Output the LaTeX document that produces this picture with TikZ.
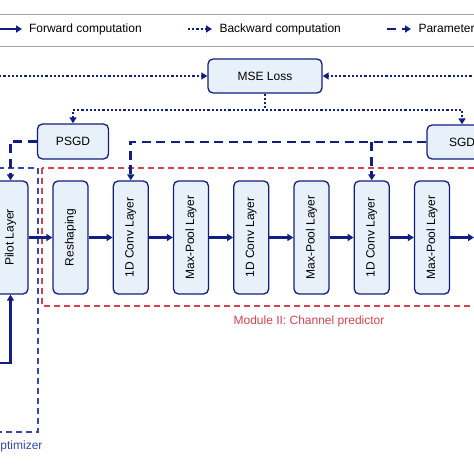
\documentclass[tikz,border=0pt]{standalone}
\usepackage{fontspec}
\setmainfont{Liberation Sans}
\usetikzlibrary{arrows.meta}
\definecolor{navy}{RGB}{18,30,130}
\definecolor{boxfill}{RGB}{232,240,249}
\definecolor{modred}{RGB}{214,66,78}
\definecolor{modblue}{RGB}{52,72,176}

\begin{document}
\begin{tikzpicture}[x=1pt, y=-1pt,
    font=\fontsize{12}{14}\selectfont,
    box/.style={draw=navy, fill=boxfill, line width=1.3pt, rounded corners=5pt, inner sep=0pt},
    layer/.style={box, minimum width=35pt, minimum height=113pt},
    fwd/.style={navy, line width=2.4pt, -{Triangle[length=6pt,width=7pt]}},
    back/.style={navy, line width=2.2pt, dash pattern=on 2.2pt off 2pt, -{Triangle[length=6pt,width=7pt]}},
    param/.style={navy, line width=2.6pt, dash pattern=on 9pt off 5.5pt, -{Triangle[length=6pt,width=7pt]}},
    module/.style={line width=1.2pt, dash pattern=on 6pt off 4pt}]
    \useasboundingbox (0,0) rectangle (474,474);

    % legend
    \draw[gray!70, line width=0.8pt] (-5,14) rectangle (480,46);
    \node[anchor=west] (tf) at (25.5,29) {Forward computation};
    \node[anchor=west] (tb) at (216,29) {Backward computation};
    \node[anchor=west] (tp) at (415,29) {Parameter update};
    \coordinate (lf) at (0,29);
    \coordinate (lb) at (188,29);
    \coordinate (lp) at (387,29);
    \draw[fwd, shorten >=3.5pt] (lf) -- (tf.west);
    \draw[back, shorten >=4pt] (lb) -- (tb.west);
    \draw[param, shorten >=4pt] (lp) -- (tp.west);

    % modules
    \draw[module, modred] (42,168) rectangle (490,306);
    \node[modred, anchor=north] (m2) at (309,312) {Module II: Channel predictor};
    \draw[module, modblue] (-10,168) rectangle (38,432);
    \node[modblue, anchor=east] (m1) at (46,446) {Module I: Pilot optimizer};

    % loss and optimizers
    \node[box, minimum width=114pt, minimum height=34pt] (mse) at (265,76) {MSE Loss};
    \node[box, minimum width=71pt, minimum height=35pt] (psgd) at (73,141.5) {PSGD};
    \node[box, minimum width=70pt, minimum height=34pt] (sgd) at (462,142) {SGD};

    % layers
    \node[layer] (pilot) at (10.5,237.5) {\rotatebox{90}{Pilot Layer}};
    \foreach \i/\t in {1/Reshaping,2/1D Conv Layer,3/Max-Pool Layer,4/1D Conv Layer,5/Max-Pool Layer,6/1D Conv Layer,7/Max-Pool Layer}
        \node[layer] (l\i) at ({70.5+60.25*(\i-1)},237.5) {\rotatebox{90}{\t}};

    % forward
    \coordinate (inp) at (-5,363);
    \coordinate (out) at (474,237.5);
    \draw[fwd] (inp) -| (pilot);
    \draw[fwd] (pilot) -- (l1);
    \foreach \i [count=\j from 2] in {1,...,6}
        \draw[fwd] (l\i) -- (l\j);
    \draw[fwd] (l7) -- (out);

    % backward
    \coordinate (lossl) at (-5,76);
    \coordinate (lossr) at (480,76);
    \draw[back] (lossl) -- (mse);
    \draw[back] (lossr) -- (mse);
    \draw[back] (mse.south) -- ++(0,16) -| (psgd);
    \draw[back] (mse.south) -- ++(0,16) -| (sgd);

    % parameter update
    \draw[param] (psgd) -| (pilot);
    \draw[param] (sgd) -| (l2);
    \draw[param] (sgd -| l6) -- (l6);
\end{tikzpicture}
\end{document}
